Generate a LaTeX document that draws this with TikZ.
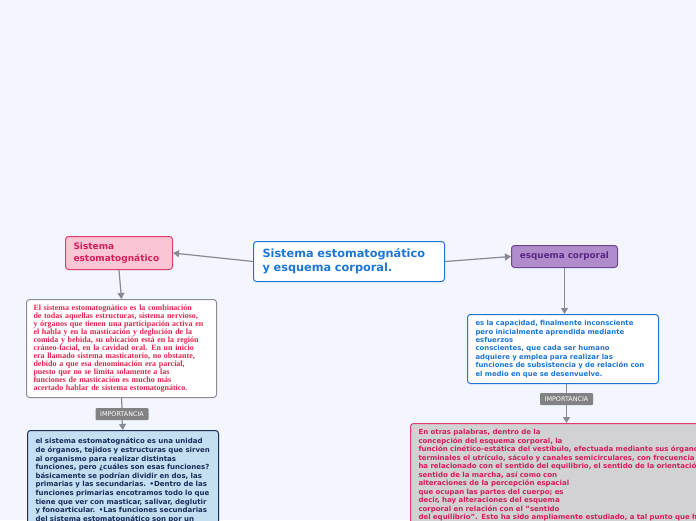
\documentclass[tikz,border=0pt]{standalone}
\usepackage{fontspec}
\setmainfont{DejaVu Sans}
\newfontfamily\serifa{Liberation Serif}
\usetikzlibrary{arrows.meta}

\definecolor{fondo}{RGB}{243,245,255}
\definecolor{enlace}{RGB}{135,138,150}
\definecolor{etiq}{RGB}{130,130,132}
\definecolor{azul}{RGB}{28,118,214}
\definecolor{rosaborde}{RGB}{226,58,108}
\definecolor{rosafondo}{RGB}{251,198,212}
\definecolor{rosatexto}{RGB}{214,30,90}
\definecolor{lilaborde}{RGB}{112,70,150}
\definecolor{lilafondo}{RGB}{176,140,204}
\definecolor{lilatexto}{RGB}{88,40,128}
\definecolor{grisborde}{RGB}{140,140,150}
\definecolor{rojo}{RGB}{226,34,78}
\definecolor{celeste}{RGB}{196,222,242}
\definecolor{marino}{RGB}{26,44,88}
\definecolor{gris}{RGB}{210,210,212}

\tikzset{
  caja/.style={rectangle, rounded corners=3pt, line width=1pt, anchor=north west, align=left},
  flecha/.style={draw=enlace, line width=1.2pt, -{Triangle[length=6pt,width=7pt]}},
  linea/.style={draw=enlace, line width=1.2pt},
  etiqueta/.style={fill=etiq, text=white, font=\fontsize{6.4}{7}\selectfont, rounded corners=1pt,
    inner sep=0pt, minimum width=53pt, minimum height=12pt},
}

\begin{document}
\begin{tikzpicture}[x=1pt,y=1pt,yscale=-1,xscale=1]
\clip (0,0) rectangle (696,520);
\fill[fondo] (0,0) rectangle (696,520);

%Shape: Central topic
\node[caja, draw=azul, fill=white, text=azul, font=\fontsize{11.3}{14}\selectfont\bfseries,
  text width=173pt, inner xsep=9pt, inner ysep=0pt, minimum height=40pt] (centro) at (253,241)
  {Sistema estomatognático\\y esquema corporal.};
%Shape: Main topics
\node[caja, draw=rosaborde, fill=rosafondo, text=rosatexto, font=\fontsize{9}{12}\selectfont\bfseries,
  text width=91pt, inner xsep=8pt, inner ysep=0pt, minimum height=33pt] (estoma) at (65,236)
  {Sistema\\estomatognático};
\node[caja, align=center, draw=lilaborde, fill=lilafondo, text=lilatexto, font=\fontsize{8.8}{10}\selectfont\bfseries,
  text width=106pt, inner xsep=0pt, inner ysep=0pt, minimum height=22pt] (corporal) at (511,245)
  {esquema corporal};

% Text Node
\node[caja, draw=grisborde, fill=white, text=rojo, font=\serifa\bfseries\fontsize{8}{8}\selectfont,
  text width=176pt, inner xsep=7pt, inner ysep=0pt, minimum height=98pt] (defest) at (26,299)
  {El sistema estomatognático es la combinación\\
   de todas aquellas estructuras, sistema nervioso,\\
   y órganos que tienen una participación activa en\\
   el habla y en la masticación y deglución de la\\
   comida y bebida, su ubicación está en la región\\
   cráneo-facial, en la cavidad oral. En un inicio\\
   era llamado sistema masticatorio, no obstante,\\
   debido a que esa denominación era parcial,\\
   puesto que no se limita solamente a las\\
   funciones de masticación es mucho más\\
   acertado hablar de sistema estomatognático.};
\node[etiqueta] (impIzq) at (122,414) {IMPORTANCIA};
% Text Node
\node[caja, draw=marino, fill=celeste, text=marino, font=\fontsize{7}{8.6}\selectfont\bfseries,
  text width=175pt, inner xsep=8pt, inner ysep=6pt, minimum height=100pt] (funciones) at (27,430)
  {el sistema estomatognático es una unidad\\
   de órganos, tejidos y estructuras que sirven\\
   al organismo para realizar distintas\\
   funciones, pero ¿cuáles son esas funciones?\\
   básicamente se podrían dividir en dos, las\\
   primarias y las secundarias. •Dentro de las\\
   funciones primarias encotramos todo lo que\\
   tiene que ver con masticar, salivar, deglutir\\
   y fonoarticular. •Las funciones secundarias\\
   del sistema estomatognático son por un};

% Text Node
\node[caja, draw=azul, fill=white, text=azul, font=\fontsize{6.9}{8.4}\selectfont\bfseries,
  text width=175pt, inner xsep=8pt, inner ysep=0pt, minimum height=69pt] (defcorp) at (467,314)
  {es la capacidad, finalmente inconsciente\\
   pero inicialmente aprendida mediante\\
   esfuerzos\\
   conscientes, que cada ser humano\\
   adquiere y emplea para realizar las\\
   funciones de subsistencia y de relación con\\
   el medio en que se desenvuelve.};
\node[etiqueta] (impDer) at (566.5,399) {IMPORTANCIA};
% Text Node
\node[caja, draw=rosaborde, fill=gris, text=rosatexto, font=\fontsize{7}{8.5}\selectfont\bfseries,
  text width=330pt, inner xsep=8pt, inner ysep=6pt] (equilibrio) at (410,423)
  {En otras palabras, dentro de la\\
   concepción del esquema corporal, la\\
   función cinético-estática del vestíbulo, efectuada mediante sus órganos\\
   terminales el utrículo, sáculo y canales semicirculares, con frecuencia se\\
   ha relacionado con el sentido del equilibrio, el sentido de la orientación,\\
   sentido de la marcha, así como con\\
   alteraciones de la percepción espacial\\
   que ocupan las partes del cuerpo; es\\
   decir, hay alteraciones del esquema\\
   corporal en relación con el "sentido\\
   del equilibrio". Esto ha sido ampliamente estudiado, a tal punto que ha};

%Straight Lines
\draw[flecha] (centro.west) -- (estoma.east);
\draw[flecha] (centro.east) -- (corporal.west);
\draw[flecha] (estoma.south) -- (defest.north);
\draw[linea] (defest.south) -- (impIzq.north);
\draw[flecha] (impIzq.south) -- (funciones.north);
\draw[flecha] (corporal.south) -- (corporal.south |- defcorp.north);
\draw[linea] (impDer.north |- defcorp.south) -- (impDer.north);
\draw[flecha] (impDer.south) -- (impDer.south |- equilibrio.north);

\end{tikzpicture}
\end{document}
